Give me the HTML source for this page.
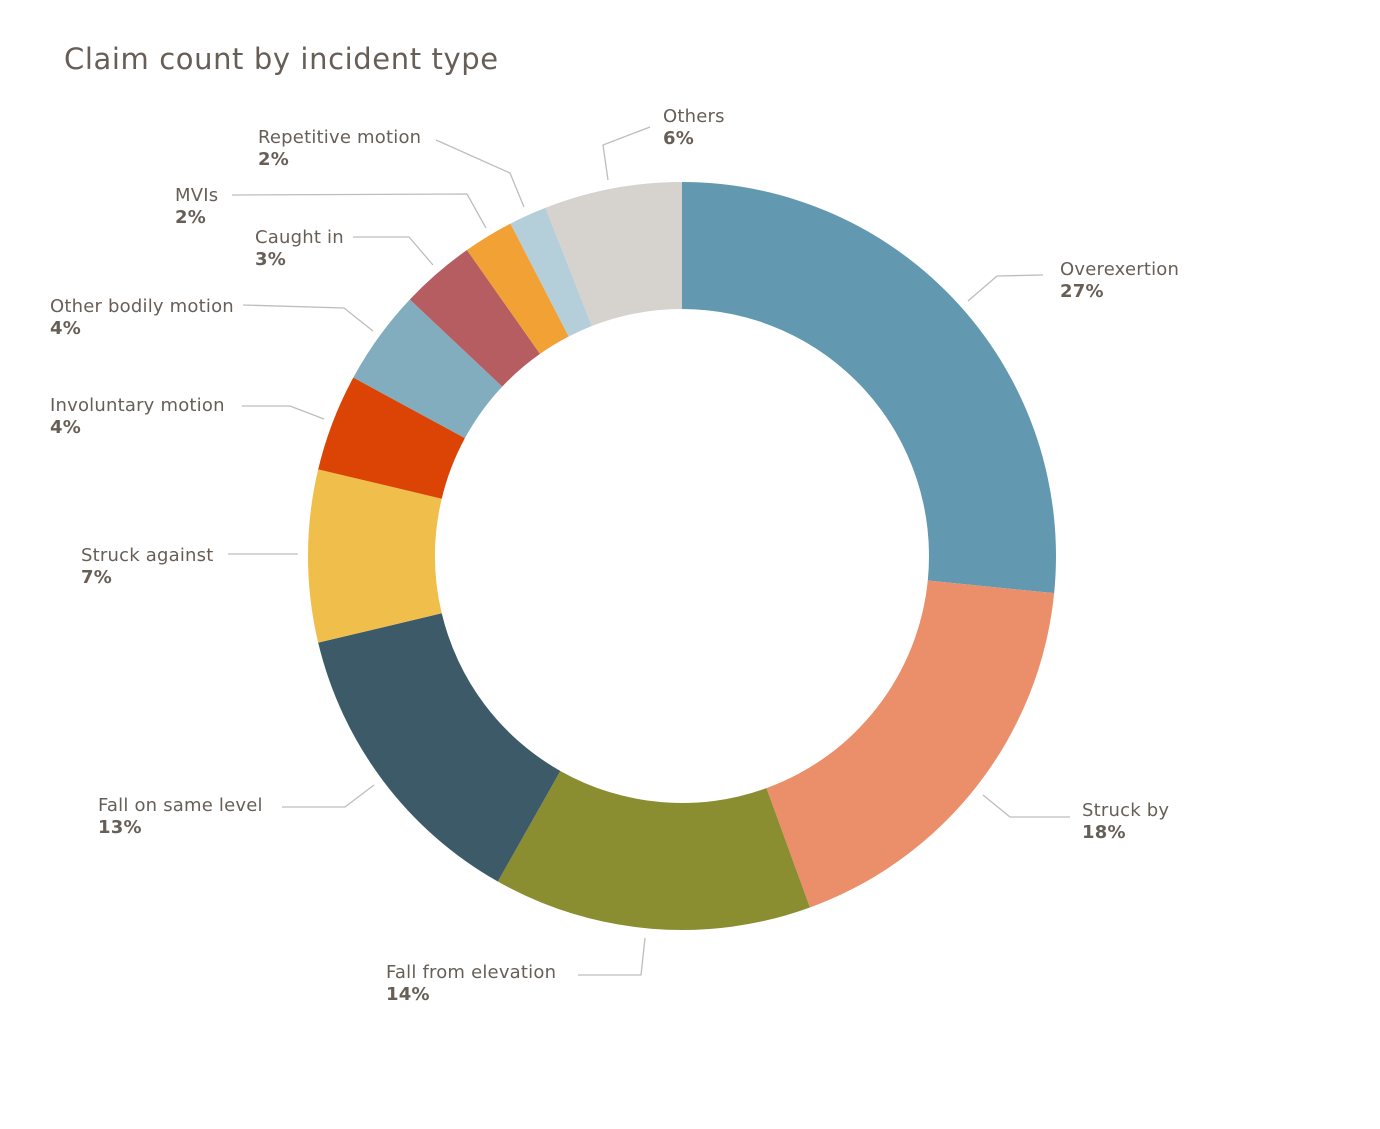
<!DOCTYPE html>
<html><head><meta charset="utf-8"><style>
html,body{margin:0;padding:0;background:#fff;}
svg text{font-family:"DejaVu Sans","Liberation Sans",sans-serif;fill:#675f57;}
.l{font-size:18px;letter-spacing:0.2px;}
.b{font-size:18px;font-weight:bold;letter-spacing:0.2px;}
</style></head><body>
<svg id="s" width="1380" height="1124" xmlns="http://www.w3.org/2000/svg">
<text x="64" y="69" style="font-size:29px;letter-spacing:0.6px">Claim count by incident type</text>
<g id="pie"></g>
<g stroke="#bdbdbd" stroke-width="1.3" fill="none">
<polyline points="608,180 603,145 650,127"/>
<polyline points="436,140 510,173 524,207"/>
<polyline points="232,195 467,194 486,228"/>
<polyline points="353,237 409,237 433,265"/>
<polyline points="243,305 344,308 373,331"/>
<polyline points="242,406 290,406 324,419"/>
<polyline points="228,554 298,554"/>
<polyline points="282,807 345,807 374,785"/>
<polyline points="578,975 641,975 645,938"/>
<polyline points="983,795 1010,817 1070,817"/>
<polyline points="968,301 997,276 1043,275"/>
</g>
<text class="l" x="663" y="122">Others</text><text class="b" x="663" y="144">6%</text>
<text class="l" x="258" y="143">Repetitive motion</text><text class="b" x="258" y="165">2%</text>
<text class="l" x="175" y="201">MVIs</text><text class="b" x="175" y="223">2%</text>
<text class="l" x="255" y="243">Caught in</text><text class="b" x="255" y="265">3%</text>
<text class="l" x="50" y="312">Other bodily motion</text><text class="b" x="50" y="334">4%</text>
<text class="l" x="50" y="411">Involuntary motion</text><text class="b" x="50" y="433">4%</text>
<text class="l" x="81" y="561">Struck against</text><text class="b" x="81" y="583">7%</text>
<text class="l" x="98" y="811">Fall on same level</text><text class="b" x="98" y="833">13%</text>
<text class="l" x="386" y="978">Fall from elevation</text><text class="b" x="386" y="1000">14%</text>
<text class="l" x="1082" y="816">Struck by</text><text class="b" x="1082" y="838">18%</text>
<text class="l" x="1060" y="275">Overexertion</text><text class="b" x="1060" y="297">27%</text>
</svg>
<script>
var cx=682,cy=556,R=374,r=247;
var b=[0,95.7,160,209.5,256.6,283.4,298.5,313.3,324.9,332.7,338.6,360];
var c=["#6399b0","#eb8e6a","#8a8e31","#3c5a68","#f0be4a","#dc4405","#82adbe","#b55d61","#f2a134","#b4cfd9","#d6d2ce"];
function p(a,rad){a=a*Math.PI/180;return (cx+rad*Math.sin(a)).toFixed(2)+","+(cy-rad*Math.cos(a)).toFixed(2);}
var h="";
for(var i=0;i<11;i++){var a0=b[i],a1=b[i+1],lg=(a1-a0)>180?1:0;
h+='<path fill="'+c[i]+'" d="M'+p(a0,R)+' A'+R+','+R+' 0 '+lg+' 1 '+p(a1,R)+' L'+p(a1,r)+' A'+r+','+r+' 0 '+lg+' 0 '+p(a0,r)+' Z"/>';}
document.getElementById("pie").innerHTML=h;
</script>
</body></html>
